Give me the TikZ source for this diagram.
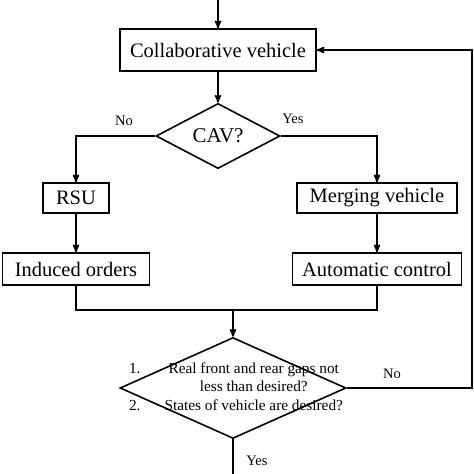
\documentclass[tikz,border=0pt]{standalone}
\usepackage{fontspec}
\setmainfont{Liberation Serif}
\usetikzlibrary{arrows,positioning,shapes.geometric}
\tikzset{
 >=stealth',
 box/.style={draw,shape=rectangle,inner sep=0pt,font=\fontsize{20.5}{24}\selectfont},
 choice/.style={draw,shape=diamond,inner sep=0pt},
 answer/.style={font=\fontsize{14.5}{17}\selectfont}
}

\begin{document}
\begin{tikzpicture}[x=1pt,y=-1pt,line width=1.6pt]
\useasboundingbox (0,0) rectangle (474,474);
\path (218,0) coordinate (start);
\path (218,50) node[box,name=cv,minimum width=196pt,minimum height=42pt] {Collaborative vehicle};
\path (218,136) node[choice,name=cav,minimum width=124pt,minimum height=58pt,font=\fontsize{21}{24}\selectfont] {CAV?};

\path (76,198) node[box,name=rsu,minimum width=66pt,minimum height=30pt] {RSU};
\path (377,198) node[box,name=mv,minimum width=160pt,minimum height=30pt] {Merging vehicle};
\path (76,269) node[box,name=io,minimum width=147pt,minimum height=32pt] {Induced orders};
\path (377,269) node[box,name=ac,minimum width=169pt,minimum height=32pt] {Automatic control};

\path (233,388) node[choice,name=check,minimum width=226pt,minimum height=101pt] {};
\path (236,388) node[name=checktext,inner sep=0pt,font=\fontsize{15.3}{18.5}\selectfont] {%
 \begin{tabular}{@{}l@{\hspace{24pt}}c@{}}
 1. & Real front and rear gaps not\\
    & less than desired?\\
 2. & States of vehicle are desired?
 \end{tabular}};

\path (124,121) node[answer] {No};
\path (293,119) node[answer] {Yes};
\path (392,374) node[answer] {No};
\path (257,461) node[answer] {Yes};

\path (233,310) coordinate (join);
\path (472,388) coordinate (back);
\path (233,474) coordinate (finish);

\path[->] (start) edge (cv);
\path[->] (cv) edge (cav);
\draw[->] (cav.west) -| (rsu);
\draw[->] (cav.east) -| (mv);
\path[->] (rsu) edge (io);
\path[->] (mv) edge (ac);
\draw (io) |- (join);
\draw (ac) |- (join);
\path[->] (join) edge (check);
\draw[->] (check.east) -- (back) |- (cv.east);
\draw (check.south) -- (finish);
\end{tikzpicture}
\end{document}
